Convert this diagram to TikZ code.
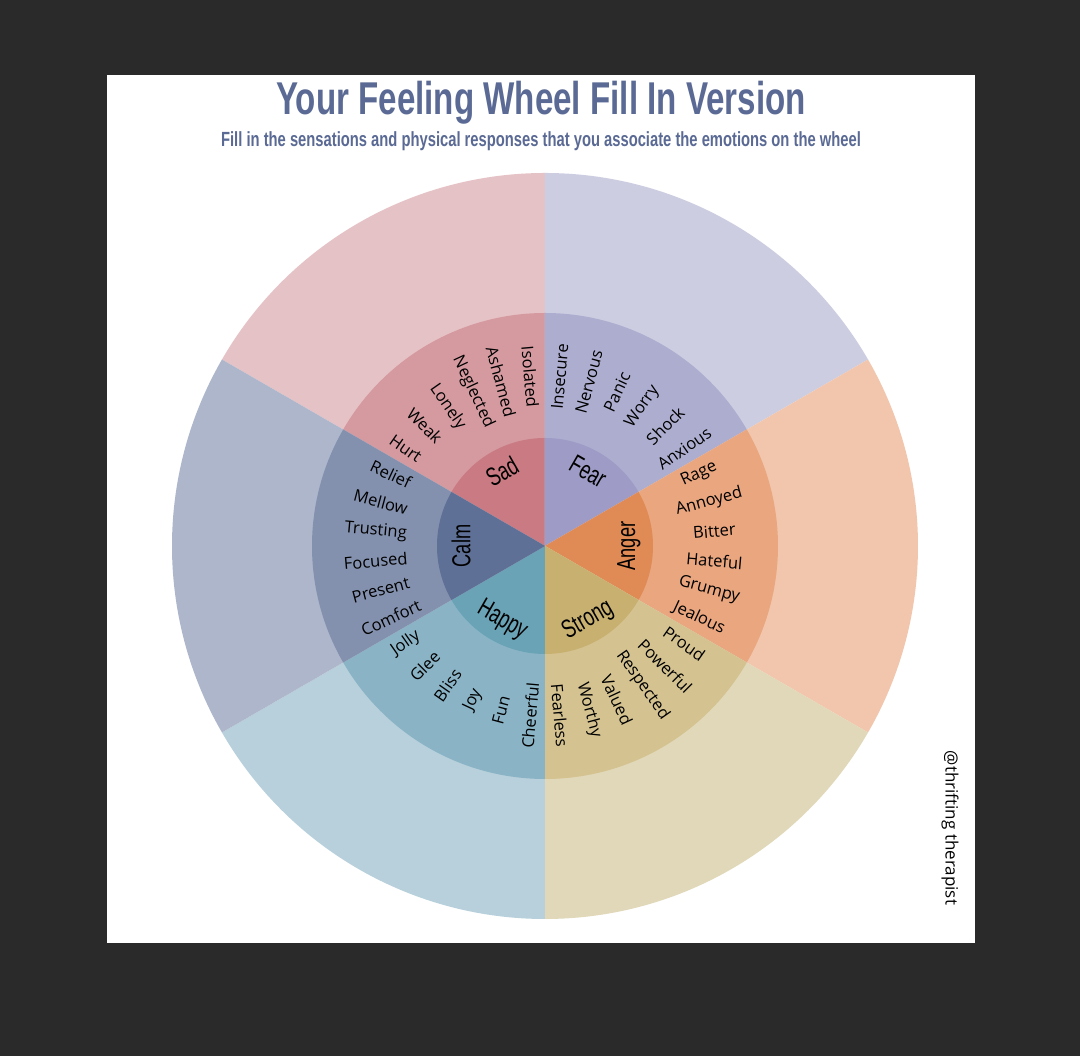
\documentclass[tikz,border=0pt]{standalone}
\usepackage{fontspec}
\setmainfont{Open Sans}
\newfontfamily\cond[FakeStretch=0.7]{Liberation Sans}
\newfontfamily\condb[FakeStretch=0.72]{Liberation Sans}
\definecolor{bg}{HTML}{2A2A2A}
\definecolor{ttl}{HTML}{5A6A94}
\definecolor{sadO}{HTML}{E5C2C6}
\definecolor{sadM}{HTML}{D49AA0}
\definecolor{sadI}{HTML}{C97A82}
\definecolor{fearO}{HTML}{CDCDE2}
\definecolor{fearM}{HTML}{ADADD0}
\definecolor{fearI}{HTML}{9E9CC6}
\definecolor{angO}{HTML}{F2C6AD}
\definecolor{angM}{HTML}{E9A67F}
\definecolor{angI}{HTML}{E08A55}
\definecolor{strO}{HTML}{E0D8B8}
\definecolor{strM}{HTML}{D4C290}
\definecolor{strI}{HTML}{C8B070}
\definecolor{hapO}{HTML}{B8D0DB}
\definecolor{hapM}{HTML}{8AB4C6}
\definecolor{hapI}{HTML}{6AA3B6}
\definecolor{calO}{HTML}{ADB6CA}
\definecolor{calM}{HTML}{8391AE}
\definecolor{calI}{HTML}{5F7096}
\begin{document}
\begin{tikzpicture}[x=1pt,y=1pt,
  word/.style={font=\fontsize{16.5}{16.5}\selectfont,inner sep=0pt},
  core/.style={font=\cond\fontsize{26}{26}\selectfont,inner sep=0pt}]
\fill[bg] (-545,-510) rectangle (535,546);
\useasboundingbox (-545,-510) rectangle (535,546);
\fill[white] (-438,-397) rectangle (430,471);
\node[font=\condb\bfseries\fontsize{46}{46}\selectfont,text=ttl] (title) at (-4,443) {Your Feeling Wheel Fill In Version};
\node[font=\condb\bfseries\fontsize{20.5}{20.5}\selectfont,text=ttl] (sub) at (-4,405) {Fill in the sensations and physical responses that you associate the emotions on the wheel};
\foreach \a/\cc in {90/sad,30/fear,-30/ang,-90/str,-150/hap,150/cal}{
  \pgfmathsetmacro\b{\a+60}
  \fill[\cc O] (0,0) -- (\a:373) arc[start angle=\a,end angle=\b,radius=373] -- cycle;
  \fill[\cc M] (0,0) -- (\a:233) arc[start angle=\a,end angle=\b,radius=233] -- cycle;
  \fill[\cc I] (0,0) -- (\a:108) arc[start angle=\a,end angle=\b,radius=108] -- cycle;
}
\node[core,rotate=30] (sad) at (120:86) {Sad};
\node[core,rotate=-30] (fear) at (60:86) {Fear};
\node[core,rotate=90] (anger) at (0:84) {Anger};
\node[core,rotate=30] (strong) at (-60:86) {Strong};
\node[core,rotate=-30] (happy) at (-120:86) {Happy};
\node[core,rotate=90] (calm) at (180:84) {Calm};
\foreach \w [count=\i] in {Anxious,Shock,Worry,Panic,Nervous,Insecure}{
  \pgfmathsetmacro\t{25+10*\i}
  \node[word,rotate=\t] at (\t:170) {\w};}
\foreach \w [count=\i] in {Jealous,Grumpy,Hateful,Bitter,Annoyed,Rage}{
  \pgfmathsetmacro\t{-35+10*\i}
  \node[word,rotate=\t] at (\t:170) {\w};}
\foreach \w [count=\i] in {Fearless,Worthy,Valued,Respected,Powerful,Proud}{
  \pgfmathsetmacro\t{-95+10*\i}
  \node[word,rotate=\t] at (\t:170) {\w};}
\foreach \w [count=\i] in {Isolated,Ashamed,Neglected,Lonely,Weak,Hurt}{
  \pgfmathsetmacro\t{85+10*\i}
  \node[word,rotate=\t-180] at (\t:170) {\w};}
\foreach \w [count=\i] in {Relief,Mellow,Trusting,Focused,Present,Comfort}{
  \pgfmathsetmacro\t{145+10*\i}
  \node[word,rotate=\t-180] at (\t:170) {\w};}
\foreach \w [count=\i] in {Jolly,Glee,Bliss,Joy,Fun,Cheerful}{
  \pgfmathsetmacro\t{205+10*\i}
  \node[word,rotate=\t-180] at (\t:170) {\w};}
\node[font=\fontsize{17}{17}\selectfont,rotate=-90] (credit) at (405,-282) {@thrifting therapist};
\end{tikzpicture}
\end{document}
